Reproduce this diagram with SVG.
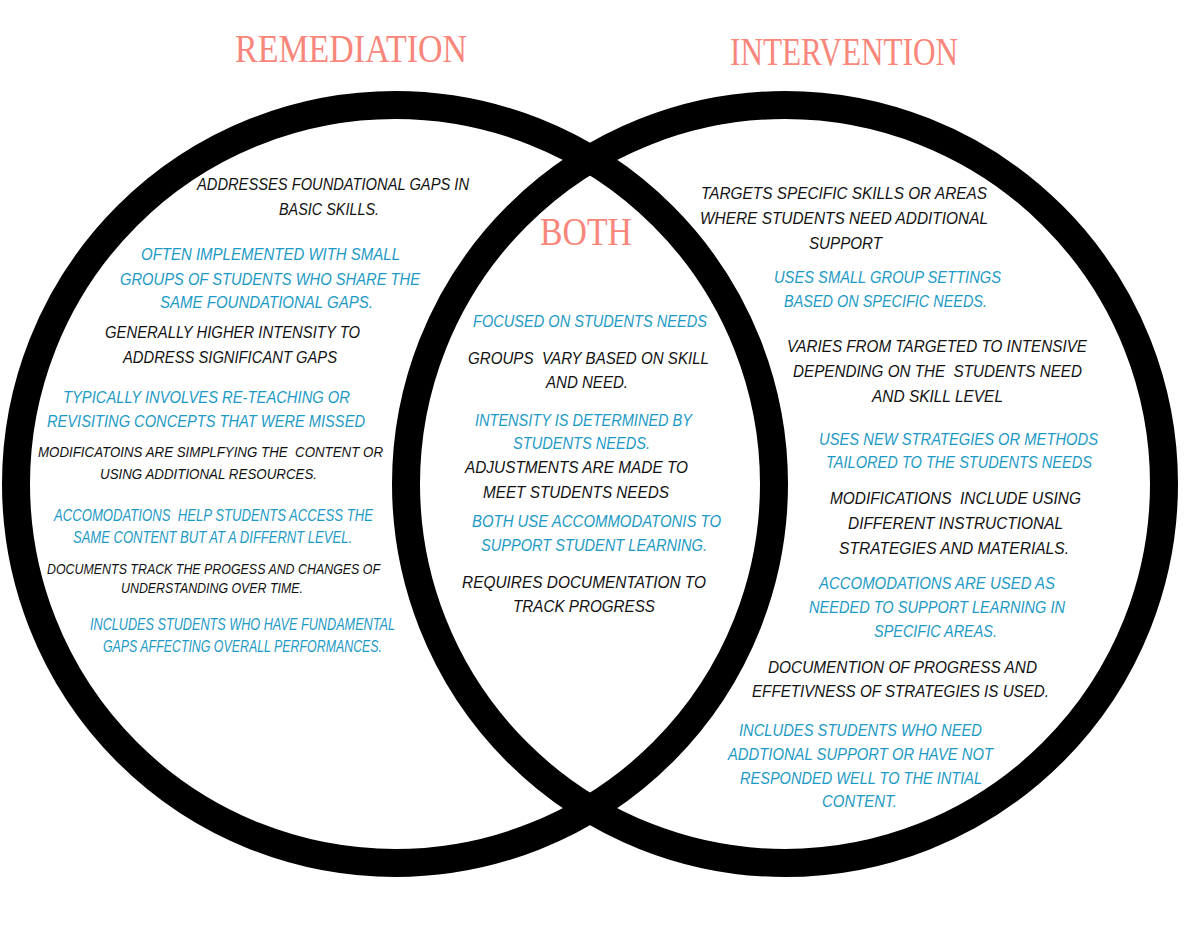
<svg xmlns="http://www.w3.org/2000/svg" width="1200" height="927" viewBox="0 0 1200 927">
<style>
.ring{fill:none;stroke:#000;stroke-width:28}
.title{font-family:"Liberation Serif","Times New Roman",serif;font-size:40px;fill:#F8867B;text-anchor:middle}
text.k,text.b{font-family:"Liberation Sans",Arial,sans-serif;font-style:italic;font-size:17px;text-anchor:middle;white-space:pre}
.k{fill:#111}
.b{fill:#1C9AC5}
.sm{font-size:15px !important}
.md{font-size:16px !important}
</style>
<rect width="1200" height="927" fill="#fff"/>
<g id="remediation">
<circle class="ring" cx="395" cy="484" r="379"/>
<text class="title" x="351" y="62" textLength="232" lengthAdjust="spacingAndGlyphs">REMEDIATION</text>
<text class="k" x="333" y="190" textLength="272" lengthAdjust="spacingAndGlyphs">ADDRESSES FOUNDATIONAL GAPS IN</text>
<text class="k" x="329" y="215" textLength="100" lengthAdjust="spacingAndGlyphs">BASIC SKILLS.</text>
<text class="b" x="270.5" y="260" textLength="259" lengthAdjust="spacingAndGlyphs">OFTEN IMPLEMENTED WITH SMALL</text>
<text class="b" x="270" y="285" textLength="300" lengthAdjust="spacingAndGlyphs">GROUPS OF STUDENTS WHO SHARE THE</text>
<text class="b" x="266.5" y="308" textLength="213" lengthAdjust="spacingAndGlyphs">SAME FOUNDATIONAL GAPS.</text>
<text class="k" x="232.5" y="338" textLength="255" lengthAdjust="spacingAndGlyphs">GENERALLY HIGHER INTENSITY TO</text>
<text class="k" x="230" y="363" textLength="214" lengthAdjust="spacingAndGlyphs">ADDRESS SIGNIFICANT GAPS</text>
<text class="b" x="206.5" y="403" textLength="287" lengthAdjust="spacingAndGlyphs">TYPICALLY INVOLVES RE-TEACHING OR</text>
<text class="b" x="206" y="427" textLength="318" lengthAdjust="spacingAndGlyphs">REVISITING CONCEPTS THAT WERE MISSED</text>
<text class="k sm" x="210.5" y="457" textLength="345" lengthAdjust="spacingAndGlyphs">MODIFICATOINS ARE SIMPLFYING THE  CONTENT OR</text>
<text class="k sm" x="208.5" y="479" textLength="217" lengthAdjust="spacingAndGlyphs">USING ADDITIONAL RESOURCES.</text>
<text class="b md" x="213.5" y="521" textLength="319" lengthAdjust="spacingAndGlyphs">ACCOMODATIONS  HELP STUDENTS ACCESS THE</text>
<text class="b md" x="212.5" y="543" textLength="279" lengthAdjust="spacingAndGlyphs">SAME CONTENT BUT AT A DIFFERNT LEVEL.</text>
<text class="k sm" x="213.5" y="574" textLength="333" lengthAdjust="spacingAndGlyphs">DOCUMENTS TRACK THE PROGESS AND CHANGES OF</text>
<text class="k sm" x="212" y="593" textLength="182" lengthAdjust="spacingAndGlyphs">UNDERSTANDING OVER TIME.</text>
<text class="b md" x="242.5" y="630" textLength="305" lengthAdjust="spacingAndGlyphs">INCLUDES STUDENTS WHO HAVE FUNDAMENTAL</text>
<text class="b md" x="242.5" y="652" textLength="279" lengthAdjust="spacingAndGlyphs">GAPS AFFECTING OVERALL PERFORMANCES.</text>
</g>
<g id="intervention">
<circle class="ring" cx="785" cy="484" r="379"/>
<text class="title" x="844" y="65" textLength="228" lengthAdjust="spacingAndGlyphs">INTERVENTION</text>
<text class="k" x="844" y="199" textLength="286" lengthAdjust="spacingAndGlyphs">TARGETS SPECIFIC SKILLS OR AREAS</text>
<text class="k" x="844" y="224" textLength="288" lengthAdjust="spacingAndGlyphs">WHERE STUDENTS NEED ADDITIONAL</text>
<text class="k" x="845.5" y="249" textLength="73" lengthAdjust="spacingAndGlyphs">SUPPORT</text>
<text class="b" x="887.5" y="283" textLength="227" lengthAdjust="spacingAndGlyphs">USES SMALL GROUP SETTINGS</text>
<text class="b" x="885.5" y="307" textLength="203" lengthAdjust="spacingAndGlyphs">BASED ON SPECIFIC NEEDS.</text>
<text class="k" x="937" y="352" textLength="300" lengthAdjust="spacingAndGlyphs">VARIES FROM TARGETED TO INTENSIVE</text>
<text class="k" x="937.5" y="377" textLength="289" lengthAdjust="spacingAndGlyphs">DEPENDING ON THE  STUDENTS NEED</text>
<text class="k" x="937.5" y="402" textLength="131" lengthAdjust="spacingAndGlyphs">AND SKILL LEVEL</text>
<text class="b" x="958.5" y="445" textLength="279" lengthAdjust="spacingAndGlyphs">USES NEW STRATEGIES OR METHODS</text>
<text class="b" x="959" y="468" textLength="266" lengthAdjust="spacingAndGlyphs">TAILORED TO THE STUDENTS NEEDS</text>
<text class="k" x="955.5" y="504" textLength="251" lengthAdjust="spacingAndGlyphs">MODIFICATIONS  INCLUDE USING</text>
<text class="k" x="955.5" y="529" textLength="215" lengthAdjust="spacingAndGlyphs">DIFFERENT INSTRUCTIONAL</text>
<text class="k" x="954" y="554" textLength="230" lengthAdjust="spacingAndGlyphs">STRATEGIES AND MATERIALS.</text>
<text class="b" x="937" y="589" textLength="236" lengthAdjust="spacingAndGlyphs">ACCOMODATIONS ARE USED AS</text>
<text class="b" x="937" y="613" textLength="256" lengthAdjust="spacingAndGlyphs">NEEDED TO SUPPORT LEARNING IN</text>
<text class="b" x="935.5" y="637" textLength="123" lengthAdjust="spacingAndGlyphs">SPECIFIC AREAS.</text>
<text class="k" x="902.5" y="673" textLength="269" lengthAdjust="spacingAndGlyphs">DOCUMENTION OF PROGRESS AND</text>
<text class="k" x="900.5" y="697" textLength="297" lengthAdjust="spacingAndGlyphs">EFFETIVNESS OF STRATEGIES IS USED.</text>
<text class="b" x="860.5" y="736" textLength="243" lengthAdjust="spacingAndGlyphs">INCLUDES STUDENTS WHO NEED</text>
<text class="b" x="860.5" y="760" textLength="265" lengthAdjust="spacingAndGlyphs">ADDTIONAL SUPPORT OR HAVE NOT</text>
<text class="b" x="861" y="784" textLength="242" lengthAdjust="spacingAndGlyphs">RESPONDED WELL TO THE INTIAL</text>
<text class="b" x="859.5" y="807" textLength="75" lengthAdjust="spacingAndGlyphs">CONTENT.</text>
</g>
<g id="both">
<text class="title" x="586" y="245" textLength="92" lengthAdjust="spacingAndGlyphs">BOTH</text>
<text class="b" x="590" y="327" textLength="234" lengthAdjust="spacingAndGlyphs">FOCUSED ON STUDENTS NEEDS</text>
<text class="k" x="588.5" y="364" textLength="241" lengthAdjust="spacingAndGlyphs">GROUPS  VARY BASED ON SKILL</text>
<text class="k" x="587" y="388" textLength="82" lengthAdjust="spacingAndGlyphs">AND NEED.</text>
<text class="b" x="583.5" y="426" textLength="217" lengthAdjust="spacingAndGlyphs">INTENSITY IS DETERMINED BY</text>
<text class="b" x="581.5" y="449" textLength="137" lengthAdjust="spacingAndGlyphs">STUDENTS NEEDS.</text>
<text class="k" x="576.5" y="473" textLength="223" lengthAdjust="spacingAndGlyphs">ADJUSTMENTS ARE MADE TO</text>
<text class="k" x="576" y="498" textLength="186" lengthAdjust="spacingAndGlyphs">MEET STUDENTS NEEDS</text>
<text class="b" x="596.5" y="527" textLength="249" lengthAdjust="spacingAndGlyphs">BOTH USE ACCOMMODATONIS TO</text>
<text class="b" x="594" y="551" textLength="226" lengthAdjust="spacingAndGlyphs">SUPPORT STUDENT LEARNING.</text>
<text class="k" x="584" y="588" textLength="244" lengthAdjust="spacingAndGlyphs">REQUIRES DOCUMENTATION TO</text>
<text class="k" x="584" y="612" textLength="142" lengthAdjust="spacingAndGlyphs">TRACK PROGRESS</text>
</g>
<g id="connectors"/>
</svg>
